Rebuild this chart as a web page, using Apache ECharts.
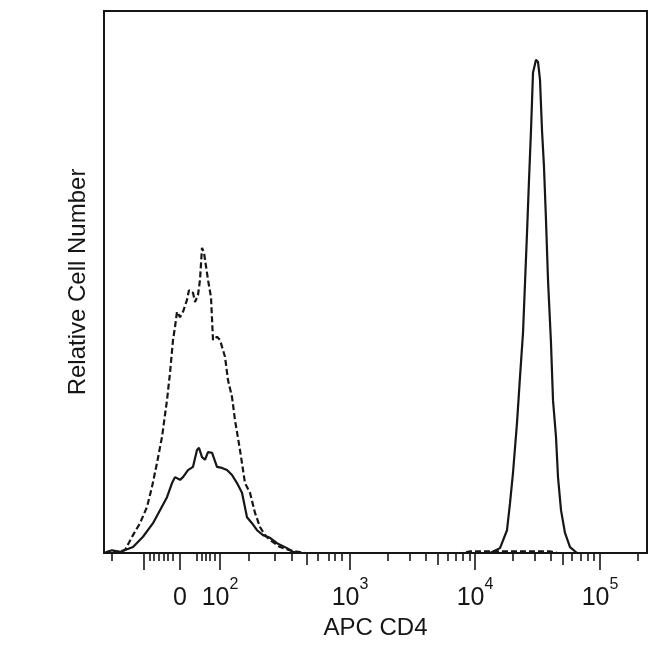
<!DOCTYPE html>
<html>
<head>
<meta charset="utf-8">
<script src="https://cdn.jsdelivr.net/npm/echarts@6/dist/echarts.min.js"></script>
<style>
  html, body { margin: 0; padding: 0; background: #fff; }
  #chart { width: 650px; height: 646px; }
</style>
</head>
<body>
<div id="chart"></div>
<script>
// x axis is in display (biexponential) units: 10^3 -> 3, 10^4 -> 4, 10^5 -> 5
var xMin = 1.032, xMax = 5.376;

// tick labels and where they sit
var labelValues = [1.64, 1.96, 3, 4, 5];
var labelTexts = ['{b|0}', '{b|10}{sup|2}', '{b|10}{sup|3}', '{b|10}{sup|4}', '{b|10}{sup|5}'];

// tick positions (long / medium / short)
var majorTicks = [1.352, 1.64, 1.96, 3, 4, 5];
var midTicks = [2.656, 3.699, 4.699];
var minorTicks = [1.096, 1.40, 1.432, 1.472, 1.512, 1.544, 1.584,
  1.776, 1.816, 1.848, 1.88, 1.92,
  2.192, 2.40, 2.536, 2.744, 2.832, 2.88, 2.936,
  3.301, 3.477, 3.602, 3.778, 3.845, 3.903, 3.954,
  4.301, 4.477, 4.602, 4.778, 4.845, 4.903, 4.954, 5.301];

// isotype control (dashed)
var isoX = [1.032, 1.144, 1.2, 1.264, 1.32, 1.376, 1.416, 1.456, 1.496, 1.536, 1.56, 1.584, 1.6, 1.616,
  1.64, 1.664, 1.696, 1.712, 1.744, 1.76, 1.784, 1.8, 1.816, 1.832, 1.848, 1.864, 1.888, 1.904,
  1.936, 1.96, 2.0, 2.024, 2.056, 2.08, 2.12, 2.16, 2.2, 2.24, 2.28, 2.32, 2.36, 2.44, 2.536, 2.64,
  3.9, 3.96, 4.6, 4.66, 5.376];
var isoY = [0, 0.2, 0.55, 3.3, 5.5, 8.5, 12.2, 16.6, 21.4, 28.2, 33.2, 39.3, 41.7, 44.5,
  43.5, 44.5, 46.7, 48.5, 48.0, 46.3, 47.6, 50.4, 56.3, 55.4, 55.5, 50.4, 47.2, 39.3,
  39.9, 39.3, 36.2, 31.9, 28.8, 24.5, 19.0, 12.9, 11.1, 7.4, 4.8, 3.3, 2.4, 1.1, 0.4, 0,
  0, 0.3, 0.3, 0, 0];

// APC CD4 stained (solid)
var cd4X = [1.032, 1.056, 1.096, 1.16, 1.264, 1.344, 1.424, 1.48, 1.536, 1.576, 1.6, 1.64, 1.664,
  1.704, 1.744, 1.776, 1.792, 1.816, 1.84, 1.864, 1.896, 1.936, 1.976, 2.016, 2.056, 2.096,
  2.136, 2.176, 2.216, 2.256, 2.304, 2.36, 2.416, 2.496, 2.544, 2.6,
  4.12, 4.2, 4.256, 4.28, 4.304, 4.336, 4.36, 4.384, 4.4, 4.416, 4.432, 4.448, 4.464, 4.488,
  4.504, 4.52, 4.536, 4.552, 4.568, 4.584, 4.608, 4.624, 4.648, 4.664, 4.688, 4.72, 4.76, 4.816, 5.376];
var cd4Y = [0, 0.2, 0.5, 0.2, 1.1, 3.0, 5.5, 7.9, 10.3, 12.9, 14.0, 13.5, 14.0,
  15.3, 15.9, 19.0, 19.4, 17.7, 17.2, 18.6, 18.5, 15.9, 15.7, 15.3, 14.4, 12.9,
  11.1, 6.6, 5.5, 4.2, 3.3, 2.8, 1.8, 0.9, 0.2, 0,
  0, 0.9, 4.2, 9.2, 14.8, 24.0, 32.5, 40.6, 49.8, 59.0, 68.8, 78.0, 88.6, 91.0,
  90.6, 87.3, 78.0, 71.2, 61.4, 50.4, 38.7, 28.2, 21.4, 14.0, 7.9, 3.7, 1.1, 0, 0];

function zip(xs, ys) {
  var out = [];
  for (var i = 0; i < xs.length; i++) out.push([xs[i], ys[i]]);
  return out;
}

var ink = '#161616';
var font = 'Liberation Sans, Arial, Helvetica, sans-serif';

function tickAxis(values, len, extra) {
  var ax = {
    type: 'value',
    gridIndex: 0,
    position: 'bottom',
    min: xMin,
    max: xMax,
    axisLine: { show: false },
    splitLine: { show: false },
    axisTick: { show: true, inside: false, length: len, customValues: values,
      lineStyle: { color: ink, width: 1.6 } },
    axisLabel: { show: false }
  };
  for (var k in extra) ax[k] = extra[k];
  return ax;
}

var myChart = echarts.init(document.getElementById('chart'));
var option = {
  animation: false,
  backgroundColor: '#ffffff',
  grid: {
    left: 104, top: 11, right: 3, bottom: 93,
    show: true, borderColor: ink, borderWidth: 2, backgroundColor: 'transparent'
  },
  xAxis: [
    tickAxis(majorTicks, 17, {
      name: 'APC CD4',
      nameLocation: 'middle',
      nameGap: 63,
      nameTextStyle: { fontFamily: font, fontSize: 24, color: ink },
      axisLabel: {
        show: true,
        customValues: labelValues,
        margin: 24,
        fontFamily: font,
        color: ink,
        fontSize: 25,
        formatter: function (v) {
          for (var i = 0; i < labelValues.length; i++) {
            if (Math.abs(labelValues[i] - v) < 1e-6) return labelTexts[i];
          }
          return '';
        },
        rich: {
          b: { fontSize: 25, fontFamily: font, color: ink, lineHeight: 34, verticalAlign: 'bottom' },
          sup: { fontSize: 16, fontFamily: font, color: ink, lineHeight: 14, verticalAlign: 'top' }
        }
      }
    }),
    tickAxis(midTicks, 12, {}),
    tickAxis(minorTicks, 8, {})
  ],
  yAxis: {
    type: 'value',
    min: 0,
    max: 100,
    name: 'Relative Cell Number',
    nameLocation: 'middle',
    nameGap: 14,
    nameTextStyle: { fontFamily: font, fontSize: 24, color: ink },
    axisLine: { show: false },
    axisTick: { show: false },
    axisLabel: { show: false },
    splitLine: { show: false }
  },
  series: [
    {
      name: 'Isotype',
      type: 'line',
      xAxisIndex: 0,
      data: zip(isoX, isoY),
      showSymbol: false,
      lineStyle: { color: ink, width: 2.2, type: [6, 3] }
    },
    {
      name: 'CD4',
      type: 'line',
      xAxisIndex: 0,
      data: zip(cd4X, cd4Y),
      showSymbol: false,
      lineStyle: { color: ink, width: 2.2 }
    }
  ]
};
myChart.setOption(option);
</script>
</body>
</html>
